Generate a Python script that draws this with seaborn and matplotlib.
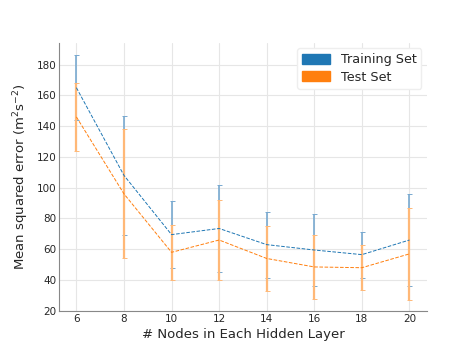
import numpy as np
import pandas as pd
import matplotlib
matplotlib.use("Agg")
import matplotlib.pyplot as plt
import seaborn as sns
from matplotlib.patches import Patch

nodes = [6, 8, 10, 12, 14, 16, 18, 20]
train_mean = [165, 108, 69.5, 73.5, 63, 59.5, 56.5, 66]
train_err = [21, 38.5, 22, 28, 21.5, 23.5, 15, 30]
test_mean = [146, 96, 58, 66, 54, 48.5, 48, 57]
test_err = [22, 42, 18, 26, 21, 21, 14.5, 30]

sns.set_theme(style="whitegrid")
plt.rcParams['font.family'] = ['DejaVu Sans']

fig, ax = plt.subplots(figsize=(4.74, 3.5), dpi=100)
fig.subplots_adjust(left=0.125, right=0.90, top=0.877, bottom=0.112)

blue = "#1f77b4"
orange = "#ff7f0e"

df = pd.DataFrame({"nodes": nodes * 2,
                   "mse": train_mean + test_mean,
                   "set": ["Training Set"] * len(nodes) + ["Test Set"] * len(nodes)})
ax.errorbar(nodes, train_mean, yerr=train_err, fmt="none", ecolor="#78a9d0",
            elinewidth=1.2, capsize=1.8, capthick=0.7, zorder=2)
ax.errorbar(nodes, test_mean, yerr=test_err, fmt="none", ecolor="#ffb877",
            elinewidth=1.6, capsize=1.8, capthick=0.7, zorder=2.1)
sns.lineplot(data=df, x="nodes", y="mse", hue="set", palette=[blue, orange],
             linestyle="--", linewidth=0.7, ax=ax, legend=False, zorder=3)

ax.set_xlim(5.28, 20.72)
ax.set_ylim(20, 194)
ax.set_xticks(nodes)
ax.set_yticks(range(20, 181, 20))
ax.tick_params(labelsize=7.5, pad=2, length=0)
ax.set_xlabel("# Nodes in Each Hidden Layer", fontsize=9.5, labelpad=3)
ax.set_ylabel(r"Mean squared error (m$^2$s$^{-2}$)", fontsize=9.5, labelpad=4)
for s in ["top", "right"]:
    ax.spines[s].set_visible(False)
for s in ["left", "bottom"]:
    ax.spines[s].set_color("#888888")
    ax.spines[s].set_linewidth(0.8)
ax.grid(color="#e6e6e6", linewidth=0.8)

handles = [Patch(color=blue, label="Training Set"), Patch(color=orange, label="Test Set")]
ax.legend(handles=handles, loc="upper right", fontsize=9.2, frameon=True,
          framealpha=1, edgecolor="#eeeeee", handlelength=2.2, handleheight=0.8,
          borderaxespad=0.4, labelspacing=0.35)

fig.savefig("out.png", dpi=100, facecolor="white")
